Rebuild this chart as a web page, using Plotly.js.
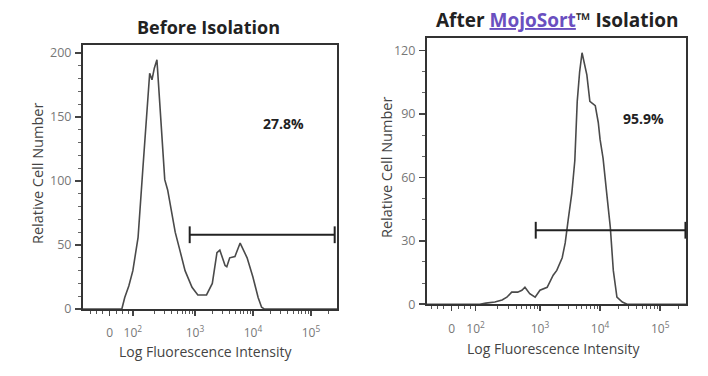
<!DOCTYPE html>
<html>
<head>
<meta charset="utf-8">
<script src="https://cdn.plot.ly/plotly-3.0.1.min.js"></script>
<style>html,body{margin:0;padding:0;background:#fff;}#chart{width:708px;height:376px;}</style>
</head>
<body>
<div id="chart"></div>
<script>
// Histogram x values are log10 of fluorescence intensity (display decades)
const beforeX = [1.07,1.74,1.79,1.86,1.93,2.02,2.10,2.14,2.17,2.22,2.26,2.30,2.345,2.40,2.45,2.48,2.53,2.60,2.66,2.74,2.83,2.95,3.05,3.20,3.30,3.38,3.43,3.52,3.55,3.60,3.69,3.78,3.90,4.00,4.09,4.15,4.20,5.45];
const beforeY = [0,0,9,18,30,56,108,132,150,184,179,188,194.5,158,124,101,93,75,60,46,30,17,11,11,20,44,46,34,33,40,41,51.5,40,25,9,1.5,0,0];
const afterX = [1.12,2.0,2.1,2.25,2.37,2.45,2.53,2.63,2.70,2.75,2.83,2.92,3.0,3.12,3.22,3.28,3.37,3.42,3.47,3.53,3.58,3.62,3.66,3.70,3.78,3.83,3.92,3.97,4.0,4.05,4.11,4.17,4.22,4.28,4.37,4.45,5.43];
const afterY = [0,0,0.5,1,2,3.3,5.7,5.7,6.6,8,5,3.3,6.6,8,13.7,16,22,29,40,52.6,68,96,110,119,108.5,96,94,86,78,69,52.6,36.5,16,3.3,1,0,0];
const gateBeforeX = [2.91, 5.41];
const gateBeforeY = [58, 58];
const gateAfterX = [2.93, 5.42];
const gateAfterY = [35, 35];
const pctBefore = '27.8%';
const pctAfter = '95.9%';
const xTickVals = [1.53, 1.93, 3, 4, 5];
const xTickText = ['0', '10<sup>2</sup>', '10<sup>3</sup>', '10<sup>4</sup>', '10<sup>5</sup>'];
const yTicksBefore = [0, 50, 100, 150, 200];
const yTicksAfter = [0, 30, 60, 90, 120];

const minorX = [];
[1.2,1.3,1.4].forEach(v=>minorX.push(v));
[1.65,1.75,1.85].forEach(v=>minorX.push(v));
for (let k = 2; k <= 4; k++) for (let m = 2; m <= 9; m++) minorX.push(k + Math.log10(m));
minorX.push(5 + Math.log10(2));

const font = 'Open Sans, Lato, sans-serif';
const histLine = {color: '#4a4a4a', width: 1.6};
const gateStyle = {
  mode: 'lines+markers',
  line: {color: '#222', width: 2},
  marker: {symbol: 'line-ns-open', size: 12, line: {color: '#222', width: 2}, color: '#222'},
  cliponaxis: false, hoverinfo: 'skip', showlegend: false
};

const traces = [
  {x: beforeX, y: beforeY, xaxis: 'x', yaxis: 'y', mode: 'lines', line: histLine, showlegend: false},
  Object.assign({x: gateBeforeX, y: gateBeforeY, xaxis: 'x', yaxis: 'y'}, gateStyle),
  {x: afterX, y: afterY, xaxis: 'x2', yaxis: 'y2', mode: 'lines', line: histLine, showlegend: false},
  Object.assign({x: gateAfterX, y: gateAfterY, xaxis: 'x2', yaxis: 'y2'}, gateStyle)
];

function xAxis(domain, range, anchor) {
  return {
    domain: domain, range: range, anchor: anchor,
    showline: true, mirror: true, linecolor: '#333', linewidth: 2,
    showgrid: false, zeroline: false,
    tickmode: 'array', tickvals: xTickVals, ticktext: xTickText,
    ticks: 'outside', ticklen: 5, tickwidth: 1.5, tickcolor: '#444',
    ticklabelstandoff: 7,
    tickfont: {family: font, size: 12, color: '#777'},
    minor: {tickmode: 'array', tickvals: minorX, ticks: 'outside', ticklen: 3, tickcolor: '#555', tickwidth: 1, showgrid: false}
  };
}
function yAxis(domain, range, anchor, ticks) {
  return {
    domain: domain, range: range, anchor: anchor,
    showline: true, mirror: true, linecolor: '#333', linewidth: 2,
    showgrid: false, zeroline: false,
    tickmode: 'array', tickvals: ticks,
    ticks: 'outside', ticklen: 6, tickwidth: 1.5, tickcolor: '#444',
    ticklabelstandoff: 1,
    tickfont: {family: font, size: 12.5, color: '#777'},
    minor: {dtick: 10, ticks: 'outside', ticklen: 3, tickcolor: '#666', tickwidth: 1, showgrid: false}
  };
}

const layout = {
  width: 708, height: 376,
  margin: {l: 0, r: 0, t: 0, b: 0},
  paper_bgcolor: '#fff', plot_bgcolor: '#fff',
  font: {family: font},
  xaxis: xAxis([0.1172, 0.476], [1.07, 5.45], 'y'),
  yaxis: yAxis([0.178, 0.880], [0, 206], 'x', yTicksBefore),
  xaxis2: xAxis([0.603, 0.969], [1.12, 5.43], 'y2'),
  yaxis2: yAxis([0.191, 0.899], [0, 126], 'x2', yTicksAfter),
  annotations: [
    {text: '<b>Before Isolation</b>', xref: 'paper', yref: 'paper', x: 208/708, y: (376-27)/376, xanchor: 'center', yanchor: 'middle', showarrow: false, font: {family: font, size: 18, color: '#222'}},
    {text: '<b>After <span style="fill:#6a4fc0;text-decoration:underline">MojoSort</span>™ Isolation</b>', xref: 'paper', yref: 'paper', x: 557/708, y: (376-20)/376, xanchor: 'center', yanchor: 'middle', showarrow: false, font: {family: font, size: 19, color: '#222'}},
    {text: 'Log Fluorescence Intensity', xref: 'paper', yref: 'paper', x: 205/708, y: (376-351)/376, xanchor: 'center', yanchor: 'middle', showarrow: false, font: {family: font, size: 14, color: '#444'}},
    {text: 'Log Fluorescence Intensity', xref: 'paper', yref: 'paper', x: 553/708, y: (376-348)/376, xanchor: 'center', yanchor: 'middle', showarrow: false, font: {family: font, size: 14, color: '#444'}},
    {text: 'Relative Cell Number', xref: 'paper', yref: 'paper', x: 37/708, y: (376-174)/376, xanchor: 'center', yanchor: 'middle', textangle: -90, showarrow: false, font: {family: font, size: 14.5, color: '#444'}},
    {text: 'Relative Cell Number', xref: 'paper', yref: 'paper', x: 386/708, y: (376-168)/376, xanchor: 'center', yanchor: 'middle', textangle: -90, showarrow: false, font: {family: font, size: 14.5, color: '#444'}},
    {text: '<b>' + pctBefore + '</b>', xref: 'x', yref: 'y', x: 4.52, y: 145, xanchor: 'center', showarrow: false, font: {family: font, size: 14, color: '#222'}},
    {text: '<b>' + pctAfter + '</b>', xref: 'x2', yref: 'y2', x: 4.73, y: 88, xanchor: 'center', showarrow: false, font: {family: font, size: 14, color: '#222'}}
  ]
};

Plotly.newPlot('chart', traces, layout, {displayModeBar: false, staticPlot: true});
</script>
</body>
</html>
